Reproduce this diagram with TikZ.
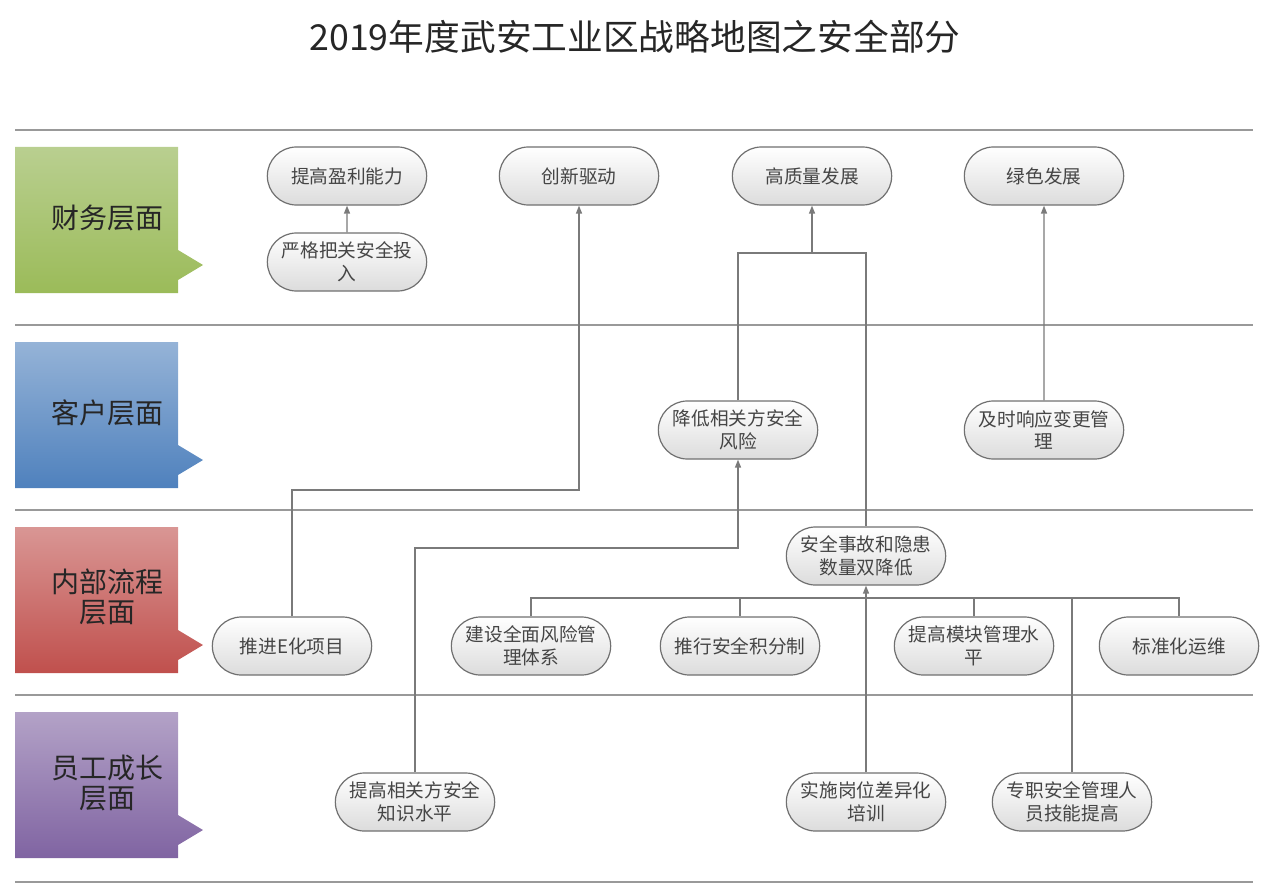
\documentclass[tikz,border=0pt]{standalone}
\usepackage{fontspec}
\setmainfont{Noto Sans CJK SC}
\usetikzlibrary{arrows.meta,calc,shapes.misc}
\definecolor{nodeline}{HTML}{707070}
\definecolor{nodebot}{HTML}{DCDCDC}
\definecolor{nodetext}{HTML}{454545}
\definecolor{conncol}{HTML}{7A7A7A}
\definecolor{sepcol}{HTML}{999999}
\definecolor{gtop}{HTML}{B9CF90}
\definecolor{gbot}{HTML}{9BBB59}
\definecolor{btop}{HTML}{95B3D7}
\definecolor{bbot}{HTML}{4F81BD}
\definecolor{rtop}{HTML}{D99694}
\definecolor{rbot}{HTML}{C0504D}
\definecolor{ptop}{HTML}{B3A2C7}
\definecolor{pbot}{HTML}{8064A2}
\begin{document}
\begin{tikzpicture}[x=0.75pt,y=-0.75pt,
  box/.style={rounded rectangle, draw=nodeline, line width=0.9pt,
    top color=white, bottom color=nodebot,
    minimum width=121.5pt, minimum height=43.5pt, inner sep=1pt,
    align=center, font=\fontsize{14}{17}\selectfont, text=nodetext},
  conn/.style={draw=conncol, line width=1pt},
  arr/.style={conn, -{Triangle[length=6pt,width=4.5pt]}},
  sep/.style={draw=sepcol, line width=1.5pt},
  lanetext/.style={align=center, font=\fontsize{21}{23}\selectfont, text=black!85}]
\useasboundingbox (0,0) rectangle (1266,895);

% title
\node[font=\fontsize{26.8}{30}\selectfont, text=black!85] (title) at (635,37) {2019年度武安工业区战略地图之安全部分};

% separators
\foreach \yy in {130,325,510,695,882}
  \draw[sep] (15,\yy) -- (1253,\yy);

% lane callouts
\path[top color=gtop, bottom color=gbot] (15,147) -- (178,147) -- (178,250) -- (203,265) -- (178,280) -- (178,293) -- (15,293) -- cycle;
\path[top color=btop, bottom color=bbot] (15,342) -- (178,342) -- (178,445) -- (203,460) -- (178,475) -- (178,488) -- (15,488) -- cycle;
\path[top color=rtop, bottom color=rbot] (15,527) -- (178,527) -- (178,630) -- (203,645) -- (178,660) -- (178,673) -- (15,673) -- cycle;
\path[top color=ptop, bottom color=pbot] (15,712) -- (178,712) -- (178,815) -- (203,830) -- (178,845) -- (178,858) -- (15,858) -- cycle;
\node[lanetext] (l1) at (107,218) {财务层面};
\node[lanetext] (l2) at (107,413) {客户层面};
\node[lanetext] (l3) at (107,597) {内部流程\\层面};
\node[lanetext] (l4) at (107,783) {员工成长\\层面};

% nodes
\node[box] (yingli) at (347,176) {提高盈利能力};
\node[box] (touru) at (347,262) {严格把关安全投\\入};
\node[box] (chuangxin) at (579,176) {创新驱动};
\node[box] (gzl) at (812,176) {高质量发展};
\node[box] (lvse) at (1044,176) {绿色发展};
\node[box] (jiangdi) at (738,430) {降低相关方安全\\风险};
\node[box] (jishi) at (1044,430) {及时响应变更管\\理};
\node[box] (shigu) at (866,556) {安全事故和隐患\\数量双降低};
\node[box] (ehua) at (292,646) {推进E化项目};
\node[box] (jianshe) at (531,646) {建设全面风险管\\理体系};
\node[box] (jifen) at (740,646) {推行安全积分制};
\node[box] (mokuai) at (974,646) {提高模块管理水\\平};
\node[box] (biaozhun) at (1179,646) {标准化运维};
\node[box] (zhishi) at (415,802) {提高相关方安全\\知识水平};
\node[box] (peixun) at (866,802) {实施岗位差异化\\培训};
\node[box] (zhuanzhi) at (1072,802) {专职安全管理人\\员技能提高};

% connectors
\draw[arr] (touru) -- (yingli);
\draw[arr] (ehua.north) |- (chuangxin.south |- 0,490) -- (chuangxin.south);
\draw[conn] (jiangdi.north) |- (shigu.north |- 0,253) -- (shigu.north);
\draw[arr] (gzl.south |- 0,253) -- (gzl.south);
\draw[arr] (zhishi.north) |- (jiangdi.south |- 0,548) -- (jiangdi.south);
\draw[arr] (jishi) -- (lvse);
\draw[conn] (jianshe.north) |- (biaozhun.north |- 0,598) -- (biaozhun.north);
\draw[conn] (jifen.north) -- (jifen.north |- 0,598);
\draw[conn] (mokuai.north) -- (mokuai.north |- 0,598);
\draw[conn] (zhuanzhi.north) -- (zhuanzhi.north |- 0,598);
\draw[arr] (peixun.north) -- (shigu.south);
\end{tikzpicture}
\end{document}
